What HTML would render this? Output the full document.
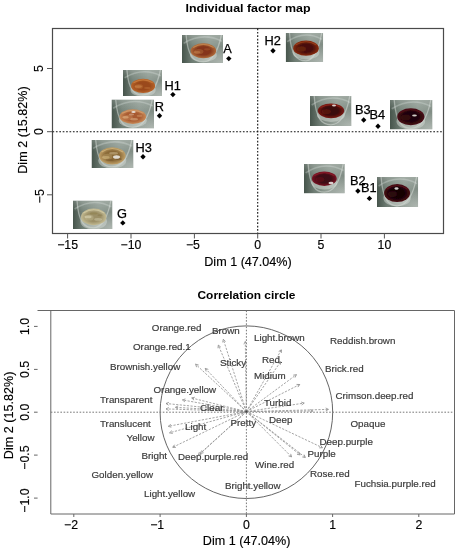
<!DOCTYPE html>
<html><head><meta charset="utf-8"><title>Factor maps</title>
<style>
html,body{margin:0;padding:0;background:#fff;}
svg{display:block}
text{font-family:"Liberation Sans",Arial,sans-serif}
.t{font-weight:bold;font-size:12.3px;fill:#000}
.ax{font-size:12.3px;fill:#000;stroke:#000;stroke-width:0.15px}
.lb{font-size:12.8px;fill:#000;stroke:#000;stroke-width:0.25px}
.cl{font-size:9.8px;fill:#3a3a3a;stroke:#3a3a3a;stroke-width:0.18px}
</style></head><body>
<svg width="458" height="550" viewBox="0 0 458 550">


<!-- ============ Individual factor map ============ -->
<text class="t" x="248" y="12.3" text-anchor="middle" style="font-size:11.8px" textLength="125" lengthAdjust="spacingAndGlyphs">Individual factor map</text>
<rect x="52.5" y="28.5" width="391" height="205" fill="none" stroke="#4a4a4a" stroke-width="1.2"/>
<line x1="52.5" y1="131.7" x2="443.5" y2="131.7" stroke="#111" stroke-width="1.1" stroke-dasharray="1.7 1.7"/>
<line x1="257.7" y1="28.5" x2="257.7" y2="233.5" stroke="#111" stroke-width="1.1" stroke-dasharray="1.7 1.7"/>
<g stroke="#555" stroke-width="1">
  <line x1="67.6" y1="233.5" x2="67.6" y2="238.5"/>
  <line x1="131" y1="233.5" x2="131" y2="238.5"/>
  <line x1="194.4" y1="233.5" x2="194.4" y2="238.5"/>
  <line x1="257.7" y1="233.5" x2="257.7" y2="238.5"/>
  <line x1="321" y1="233.5" x2="321" y2="238.5"/>
  <line x1="384.4" y1="233.5" x2="384.4" y2="238.5"/>
  <line x1="47" y1="68.5" x2="52.5" y2="68.5"/>
  <line x1="47" y1="131.7" x2="52.5" y2="131.7"/>
  <line x1="47" y1="194.8" x2="52.5" y2="194.8"/>
</g>
<g class="ax" text-anchor="middle">
  <text x="67.6" y="249">−15</text>
  <text x="131" y="249">−10</text>
  <text x="192.9" y="249">−5</text>
  <text x="257.7" y="249">0</text>
  <text x="321" y="249">5</text>
  <text x="384.4" y="249">10</text>
  <text transform="translate(43,68.5) rotate(-90)">5</text>
  <text transform="translate(43,131.7) rotate(-90)">0</text>
  <text transform="translate(43.5,196.2) rotate(-90)">−5</text>
  <text x="248" y="265.8" style="font-size:12.6px">Dim 1 (47.04%)</text>
  <text transform="translate(26.5,130) rotate(-90)" style="font-size:12.6px">Dim 2 (15.82%)</text>
</g>

<!-- photos -->
<defs><filter id="soft" x="-10%" y="-10%" width="120%" height="120%"><feGaussianBlur stdDeviation="0.45"/></filter><linearGradient id="gbg" x1="0" y1="0" x2="1" y2="0"><stop offset="0" stop-color="#46544b"/><stop offset="0.25" stop-color="#6f7d74"/><stop offset="0.65" stop-color="#8a968e"/><stop offset="1" stop-color="#808c84"/></linearGradient><linearGradient id="gtop" x1="0" y1="0" x2="0" y2="1"><stop offset="0" stop-color="#e4e9e5" stop-opacity="0.25"/><stop offset="1" stop-color="#dfe5e0" stop-opacity="0"/></linearGradient><radialGradient id="gbr" cx="1" cy="1" r="0.6"><stop offset="0" stop-color="#e8ece8" stop-opacity="0.45"/><stop offset="1" stop-color="#e8ece8" stop-opacity="0"/></radialGradient><radialGradient id="w0" cx="0.5" cy="0.5" r="0.5"><stop offset="0" stop-color="#85361a"/><stop offset="0.55" stop-color="#85361a"/><stop offset="1" stop-color="#b06c3c"/></radialGradient><clipPath id="cp0"><rect width="41" height="28"/></clipPath><radialGradient id="w1" cx="0.5" cy="0.5" r="0.5"><stop offset="0" stop-color="#9a4a1c"/><stop offset="0.55" stop-color="#9a4a1c"/><stop offset="1" stop-color="#b8642a"/></radialGradient><clipPath id="cp1"><rect width="39" height="26"/></clipPath><radialGradient id="w2" cx="0.5" cy="0.5" r="0.5"><stop offset="0" stop-color="#a85a30"/><stop offset="0.55" stop-color="#a85a30"/><stop offset="1" stop-color="#c88a58"/></radialGradient><clipPath id="cp2"><rect width="42.5" height="29"/></clipPath><radialGradient id="w3" cx="0.5" cy="0.5" r="0.5"><stop offset="0" stop-color="#8a6a38"/><stop offset="0.55" stop-color="#8a6a38"/><stop offset="1" stop-color="#c0a068"/></radialGradient><clipPath id="cp3"><rect width="42" height="28"/></clipPath><radialGradient id="w4" cx="0.5" cy="0.5" r="0.5"><stop offset="0" stop-color="#9c9068"/><stop offset="0.55" stop-color="#9c9068"/><stop offset="1" stop-color="#c4bc94"/></radialGradient><clipPath id="cp4"><rect width="39.5" height="28.5"/></clipPath><radialGradient id="w5" cx="0.5" cy="0.5" r="0.5"><stop offset="0" stop-color="#4a1008"/><stop offset="0.55" stop-color="#4a1008"/><stop offset="1" stop-color="#8a2c12"/></radialGradient><clipPath id="cp5"><rect width="37.5" height="29"/></clipPath><radialGradient id="w6" cx="0.5" cy="0.5" r="0.5"><stop offset="0" stop-color="#3a0a0a"/><stop offset="0.55" stop-color="#3a0a0a"/><stop offset="1" stop-color="#7a1a14"/></radialGradient><clipPath id="cp6"><rect width="41.5" height="30"/></clipPath><radialGradient id="w7" cx="0.5" cy="0.5" r="0.5"><stop offset="0" stop-color="#1e0408"/><stop offset="0.55" stop-color="#1e0408"/><stop offset="1" stop-color="#4a0c16"/></radialGradient><clipPath id="cp7"><rect width="42.5" height="29.5"/></clipPath><radialGradient id="w8" cx="0.5" cy="0.5" r="0.5"><stop offset="0" stop-color="#3c0812"/><stop offset="0.55" stop-color="#3c0812"/><stop offset="1" stop-color="#7a1424"/></radialGradient><clipPath id="cp8"><rect width="40.8" height="29.4"/></clipPath><radialGradient id="w9" cx="0.5" cy="0.5" r="0.5"><stop offset="0" stop-color="#120305"/><stop offset="0.55" stop-color="#120305"/><stop offset="1" stop-color="#4a0a14"/></radialGradient><clipPath id="cp9"><rect width="41.2" height="30"/></clipPath></defs>
<g transform="translate(182,35)" clip-path="url(#cp0)"><rect width="41" height="28" fill="url(#gbg)"/><g filter="url(#soft)"><rect width="41" height="11.2" fill="url(#gtop)"/><rect width="41" height="28" fill="url(#gbr)"/><path d="M4.1,0 C5.7,22.4 12.3,26.9 21.4,26.9 C29.5,26.9 36.1,16.8 39.4,0 Z" fill="#b9c2bc" opacity="0.1"/><path d="M4.1,0 C5.7,22.4 12.3,26.9 21.4,26.9 C29.5,26.9 36.1,16.8 39.4,0" fill="none" stroke="#e6ebe7" stroke-width="1.3" opacity="0.45"/><path d="M1.6,8.4 Q20.5,-3.4 39.8,6.2" fill="none" stroke="#e2e8e3" stroke-width="1.6" opacity="0.3"/><ellipse cx="21.4" cy="19.9" rx="13.4" ry="7.1" fill="#d3dad4" opacity="0.5"/><ellipse cx="21.4" cy="15.8" rx="12.8" ry="7.5" fill="url(#w0)"/><path d="M11.2,12.4 Q21.4,6.4 31.6,12.4" fill="none" stroke="#d8a060" stroke-width="1.2" opacity="0.55"/><ellipse cx="16.9" cy="16.6" rx="4.5" ry="2.6" fill="#d8a060" opacity="0.25"/><ellipse cx="15.0" cy="17.3" rx="3.4" ry="1.3" fill="#d8985a" opacity="0.38"/><ellipse cx="25.2" cy="14.3" rx="3.2" ry="1.1" fill="#c07040" opacity="0.30"/></g></g>
<g transform="translate(123,70)" clip-path="url(#cp1)"><rect width="39" height="26" fill="url(#gbg)"/><g filter="url(#soft)"><rect width="39" height="10.4" fill="url(#gtop)"/><rect width="39" height="26" fill="url(#gbr)"/><path d="M3.9,0 C5.5,20.8 11.7,25.0 20.1,25.0 C28.1,25.0 34.3,15.6 37.4,0 Z" fill="#b9c2bc" opacity="0.1"/><path d="M3.9,0 C5.5,20.8 11.7,25.0 20.1,25.0 C28.1,25.0 34.3,15.6 37.4,0" fill="none" stroke="#e6ebe7" stroke-width="1.3" opacity="0.45"/><path d="M1.6,7.8 Q19.5,-3.1 37.8,5.7" fill="none" stroke="#e2e8e3" stroke-width="1.6" opacity="0.3"/><ellipse cx="20.1" cy="19.9" rx="12.6" ry="6.8" fill="#d3dad4" opacity="0.5"/><ellipse cx="20.1" cy="15.9" rx="12.0" ry="7.2" fill="url(#w1)"/><path d="M10.5,12.7 Q20.1,6.9 29.7,12.7" fill="none" stroke="#d89048" stroke-width="1.2" opacity="0.55"/><ellipse cx="15.9" cy="16.6" rx="4.2" ry="2.5" fill="#d89048" opacity="0.25"/><ellipse cx="15.3" cy="16.6" rx="3.6" ry="1.3" fill="#e0a060" opacity="0.38"/><ellipse cx="24.3" cy="18.1" rx="3.2" ry="1.0" fill="#d89050" opacity="0.30"/></g></g>
<g transform="translate(111.5,99.5)" clip-path="url(#cp2)"><rect width="42.5" height="29" fill="url(#gbg)"/><g filter="url(#soft)"><rect width="42.5" height="11.6" fill="url(#gtop)"/><rect width="42.5" height="29" fill="url(#gbr)"/><path d="M4.2,0 C6.0,23.2 12.8,27.8 21.3,27.8 C30.6,27.8 37.4,17.4 40.8,0 Z" fill="#b9c2bc" opacity="0.1"/><path d="M4.2,0 C6.0,23.2 12.8,27.8 21.3,27.8 C30.6,27.8 37.4,17.4 40.8,0" fill="none" stroke="#e6ebe7" stroke-width="1.3" opacity="0.45"/><path d="M1.7,8.7 Q21.2,-3.5 41.2,6.4" fill="none" stroke="#e2e8e3" stroke-width="1.6" opacity="0.3"/><ellipse cx="21.3" cy="21.1" rx="14.0" ry="6.9" fill="#d3dad4" opacity="0.5"/><ellipse cx="21.3" cy="17.1" rx="13.3" ry="7.3" fill="url(#w2)"/><path d="M10.7,13.8 Q21.3,8.0 31.9,13.8" fill="none" stroke="#e0b080" stroke-width="1.2" opacity="0.55"/><ellipse cx="16.6" cy="17.8" rx="4.7" ry="2.6" fill="#e0b080" opacity="0.25"/><ellipse cx="14.0" cy="17.8" rx="3.2" ry="1.3" fill="#e8c090" opacity="0.52"/><ellipse cx="22.6" cy="19.7" rx="3.9" ry="1.2" fill="#e8c8a0" opacity="0.45"/><ellipse cx="28.0" cy="16.4" rx="2.9" ry="1.1" fill="#d8a070" opacity="0.45"/><ellipse cx="20.0" cy="14.9" rx="2.6" ry="1.0" fill="#f0e0c8" opacity="0.38"/><ellipse cx="22" cy="12.5" rx="2.2" ry="1.1" fill="#f0f0ec" opacity="0.85"/></g></g>
<g transform="translate(91.5,140)" clip-path="url(#cp3)"><rect width="42" height="28" fill="url(#gbg)"/><g filter="url(#soft)"><rect width="42" height="11.2" fill="url(#gtop)"/><rect width="42" height="28" fill="url(#gbr)"/><path d="M4.2,0 C5.9,22.4 12.6,26.9 20.8,26.9 C30.2,26.9 37.0,16.8 40.3,0 Z" fill="#b9c2bc" opacity="0.1"/><path d="M4.2,0 C5.9,22.4 12.6,26.9 20.8,26.9 C30.2,26.9 37.0,16.8 40.3,0" fill="none" stroke="#e6ebe7" stroke-width="1.3" opacity="0.45"/><path d="M1.7,8.4 Q21.0,-3.4 40.7,6.2" fill="none" stroke="#e2e8e3" stroke-width="1.6" opacity="0.3"/><ellipse cx="20.8" cy="20.5" rx="14.0" ry="8.2" fill="#d3dad4" opacity="0.5"/><ellipse cx="20.8" cy="15.8" rx="13.3" ry="8.6" fill="url(#w3)"/><path d="M10.2,11.9 Q20.8,5.1 31.4,11.9" fill="none" stroke="#e0c890" stroke-width="1.2" opacity="0.55"/><ellipse cx="16.1" cy="16.7" rx="4.7" ry="3.0" fill="#e0c890" opacity="0.25"/><ellipse cx="14.2" cy="17.5" rx="3.9" ry="1.4" fill="#e0c890" opacity="0.45"/><ellipse cx="22.1" cy="13.2" rx="4.5" ry="1.3" fill="#e8d8b0" opacity="0.38"/><ellipse cx="27.5" cy="19.2" rx="2.9" ry="1.1" fill="#5a3a18" opacity="0.38"/><ellipse cx="18.1" cy="20.1" rx="3.9" ry="1.0" fill="#6a4a20" opacity="0.30"/><ellipse cx="25" cy="17" rx="3.5" ry="1.8" fill="#f0f0ec" opacity="0.85"/></g></g>
<g transform="translate(73,200.5)" clip-path="url(#cp4)"><rect width="39.5" height="28.5" fill="url(#gbg)"/><g filter="url(#soft)"><rect width="39.5" height="11.4" fill="url(#gtop)"/><rect width="39.5" height="28.5" fill="url(#gbr)"/><path d="M4.0,0 C5.5,22.8 11.8,27.4 20.7,27.4 C28.4,27.4 34.8,17.1 37.9,0 Z" fill="#b9c2bc" opacity="0.1"/><path d="M4.0,0 C5.5,22.8 11.8,27.4 20.7,27.4 C28.4,27.4 34.8,17.1 37.9,0" fill="none" stroke="#e6ebe7" stroke-width="1.3" opacity="0.45"/><path d="M1.6,8.5 Q19.8,-3.4 38.3,6.3" fill="none" stroke="#e2e8e3" stroke-width="1.6" opacity="0.3"/><ellipse cx="20.7" cy="21.0" rx="13.3" ry="8.0" fill="#d3dad4" opacity="0.5"/><ellipse cx="20.7" cy="16.4" rx="12.7" ry="8.4" fill="url(#w4)"/><path d="M10.5,12.6 Q20.7,5.9 30.9,12.6" fill="none" stroke="#dcd6b0" stroke-width="1.2" opacity="0.55"/><ellipse cx="16.3" cy="17.2" rx="4.4" ry="2.9" fill="#dcd6b0" opacity="0.25"/><ellipse cx="15.0" cy="16.4" rx="3.6" ry="1.4" fill="#e8e4c8" opacity="0.45"/><ellipse cx="25.1" cy="18.9" rx="3.9" ry="1.3" fill="#e0dcc0" opacity="0.38"/><ellipse cx="20.7" cy="13.0" rx="3.9" ry="1.0" fill="#8a7a40" opacity="0.38"/><ellipse cx="27.0" cy="14.7" rx="2.6" ry="1.0" fill="#7a6a38" opacity="0.30"/></g></g>
<g transform="translate(285.7,33)" clip-path="url(#cp5)"><rect width="37.5" height="29" fill="url(#gbg)"/><g filter="url(#soft)"><rect width="37.5" height="11.6" fill="url(#gtop)"/><rect width="37.5" height="29" fill="url(#gbr)"/><path d="M3.8,0 C5.3,23.2 11.2,27.8 20.3,27.8 C27.0,27.8 33.0,17.4 36.0,0 Z" fill="#b9c2bc" opacity="0.1"/><path d="M3.8,0 C5.3,23.2 11.2,27.8 20.3,27.8 C27.0,27.8 33.0,17.4 36.0,0" fill="none" stroke="#e6ebe7" stroke-width="1.3" opacity="0.45"/><path d="M1.5,8.7 Q18.8,-3.5 36.4,6.4" fill="none" stroke="#e2e8e3" stroke-width="1.6" opacity="0.3"/><ellipse cx="20.3" cy="19.4" rx="13.4" ry="7.2" fill="#d3dad4" opacity="0.5"/><ellipse cx="20.3" cy="15.2" rx="12.8" ry="7.6" fill="url(#w5)"/><path d="M10.1,11.8 Q20.3,5.7 30.5,11.8" fill="none" stroke="#b0501e" stroke-width="1.2" opacity="0.55"/><ellipse cx="15.8" cy="16.0" rx="4.5" ry="2.7" fill="#b0501e" opacity="0.25"/></g></g>
<g transform="translate(310,96)" clip-path="url(#cp6)"><rect width="41.5" height="30" fill="url(#gbg)"/><g filter="url(#soft)"><rect width="41.5" height="12.0" fill="url(#gtop)"/><rect width="41.5" height="30" fill="url(#gbr)"/><path d="M4.2,0 C5.8,24.0 12.4,28.8 21.0,28.8 C29.9,28.8 36.5,18.0 39.8,0 Z" fill="#b9c2bc" opacity="0.1"/><path d="M4.2,0 C5.8,24.0 12.4,28.8 21.0,28.8 C29.9,28.8 36.5,18.0 39.8,0" fill="none" stroke="#e6ebe7" stroke-width="1.3" opacity="0.45"/><path d="M1.7,9.0 Q20.8,-3.6 40.3,6.6" fill="none" stroke="#e2e8e3" stroke-width="1.6" opacity="0.3"/><ellipse cx="21.0" cy="18.9" rx="13.9" ry="7.0" fill="#d3dad4" opacity="0.5"/><ellipse cx="21.0" cy="14.8" rx="13.2" ry="7.4" fill="url(#w6)"/><path d="M10.4,11.5 Q21.0,5.6 31.6,11.5" fill="none" stroke="#a83022" stroke-width="1.2" opacity="0.55"/><ellipse cx="16.4" cy="15.5" rx="4.6" ry="2.6" fill="#a83022" opacity="0.25"/><ellipse cx="24" cy="9.5" rx="2" ry="1" fill="#f0f0ec" opacity="0.85"/></g></g>
<g transform="translate(390,100)" clip-path="url(#cp7)"><rect width="42.5" height="29.5" fill="url(#gbg)"/><g filter="url(#soft)"><rect width="42.5" height="11.8" fill="url(#gtop)"/><rect width="42.5" height="29.5" fill="url(#gbr)"/><path d="M4.2,0 C6.0,23.6 12.8,28.3 20.8,28.3 C30.6,28.3 37.4,17.7 40.8,0 Z" fill="#b9c2bc" opacity="0.1"/><path d="M4.2,0 C6.0,23.6 12.8,28.3 20.8,28.3 C30.6,28.3 37.4,17.7 40.8,0" fill="none" stroke="#e6ebe7" stroke-width="1.3" opacity="0.45"/><path d="M1.7,8.8 Q21.2,-3.5 41.2,6.5" fill="none" stroke="#e2e8e3" stroke-width="1.6" opacity="0.3"/><ellipse cx="20.8" cy="21.4" rx="14.3" ry="8.1" fill="#d3dad4" opacity="0.5"/><ellipse cx="20.8" cy="16.7" rx="13.6" ry="8.5" fill="url(#w7)"/><path d="M9.9,12.9 Q20.8,6.1 31.7,12.9" fill="none" stroke="#6a1420" stroke-width="1.2" opacity="0.55"/><ellipse cx="16.0" cy="17.6" rx="4.8" ry="3.0" fill="#6a1420" opacity="0.25"/><ellipse cx="24.5" cy="15.5" rx="2.4" ry="1.1" fill="#f0f0ec" opacity="0.85"/></g></g>
<g transform="translate(304,164)" clip-path="url(#cp8)"><rect width="40.8" height="29.4" fill="url(#gbg)"/><g filter="url(#soft)"><rect width="40.8" height="11.8" fill="url(#gtop)"/><rect width="40.8" height="29.4" fill="url(#gbr)"/><path d="M4.1,0 C5.7,23.5 12.2,28.2 20.3,28.2 C29.4,28.2 35.9,17.6 39.2,0 Z" fill="#b9c2bc" opacity="0.1"/><path d="M4.1,0 C5.7,23.5 12.2,28.2 20.3,28.2 C29.4,28.2 35.9,17.6 39.2,0" fill="none" stroke="#e6ebe7" stroke-width="1.3" opacity="0.45"/><path d="M1.6,8.8 Q20.4,-3.5 39.6,6.5" fill="none" stroke="#e2e8e3" stroke-width="1.6" opacity="0.3"/><ellipse cx="20.3" cy="18.7" rx="13.0" ry="6.8" fill="#d3dad4" opacity="0.5"/><ellipse cx="20.3" cy="14.7" rx="12.4" ry="7.2" fill="url(#w8)"/><path d="M10.4,11.5 Q20.3,5.7 30.2,11.5" fill="none" stroke="#a02030" stroke-width="1.2" opacity="0.55"/><ellipse cx="16.0" cy="15.4" rx="4.3" ry="2.5" fill="#a02030" opacity="0.25"/><ellipse cx="27" cy="19" rx="2.5" ry="1.2" fill="#f0f0ec" opacity="0.85"/></g></g>
<g transform="translate(377,177)" clip-path="url(#cp9)"><rect width="41.2" height="30" fill="url(#gbg)"/><g filter="url(#soft)"><rect width="41.2" height="12.0" fill="url(#gtop)"/><rect width="41.2" height="30" fill="url(#gbr)"/><path d="M4.1,0 C5.8,24.0 12.4,28.8 20.1,28.8 C29.7,28.8 36.3,18.0 39.6,0 Z" fill="#b9c2bc" opacity="0.1"/><path d="M4.1,0 C5.8,24.0 12.4,28.8 20.1,28.8 C29.7,28.8 36.3,18.0 39.6,0" fill="none" stroke="#e6ebe7" stroke-width="1.3" opacity="0.45"/><path d="M1.6,9.0 Q20.6,-3.6 40.0,6.6" fill="none" stroke="#e2e8e3" stroke-width="1.6" opacity="0.3"/><ellipse cx="20.1" cy="21.1" rx="13.7" ry="8.5" fill="#d3dad4" opacity="0.5"/><ellipse cx="20.1" cy="16.1" rx="13.0" ry="9.0" fill="url(#w9)"/><path d="M9.7,12.1 Q20.1,4.9 30.5,12.1" fill="none" stroke="#7a1424" stroke-width="1.2" opacity="0.55"/><ellipse cx="15.6" cy="17.0" rx="4.5" ry="3.1" fill="#7a1424" opacity="0.25"/><ellipse cx="19.5" cy="11.5" rx="2" ry="1.3" fill="#f0f0ec" opacity="0.85"/></g></g>

<!-- points -->
<g fill="#000">
  <path d="M228.8,55.9L231.5,58.6L228.8,61.3L226.1,58.6Z"/>
  <path d="M172.9,91.9L175.6,94.6L172.9,97.3L170.2,94.6Z"/>
  <path d="M159.5,113.1L162.2,115.8L159.5,118.5L156.8,115.8Z"/>
  <path d="M143,154L145.7,156.7L143,159.4L140.3,156.7Z"/>
  <path d="M122.8,220.2L125.5,222.9L122.8,225.6L120.1,222.9Z"/>
  <path d="M273,48L275.7,50.7L273,53.4L270.3,50.7Z"/>
  <path d="M363.7,117.3L366.4,120L363.7,122.7L361,120Z"/>
  <path d="M378,123.6L380.7,126.3L378,129L375.3,126.3Z"/>
  <path d="M357.9,188.3L360.6,191L357.9,193.7L355.2,191Z"/>
  <path d="M369.4,195.7L372.1,198.4L369.4,201.1L366.7,198.4Z"/>
</g>
<g class="lb">
  <text x="223.3" y="53">A</text>
  <text x="164.5" y="89.7">H1</text>
  <text x="154.8" y="110.6">R</text>
  <text x="135.4" y="151.8">H3</text>
  <text x="117" y="217.5">G</text>
  <text x="264.5" y="45.2">H2</text>
  <text x="355" y="113.9">B3</text>
  <text x="369.5" y="119">B4</text>
  <text x="350" y="185.1">B2</text>
  <text x="361" y="192.3">B1</text>
</g>

<!-- ============ Correlation circle ============ -->
<text class="t" x="246.5" y="298.9" text-anchor="middle" style="font-size:11.6px" textLength="98" lengthAdjust="spacingAndGlyphs">Correlation circle</text>
<g fill="none" stroke="#666" stroke-width="1">
  <line x1="37.5" y1="310.5" x2="454.5" y2="310.5"/>
  <line x1="50.8" y1="310.5" x2="50.8" y2="514"/>
  <line x1="50.8" y1="514" x2="454.5" y2="514"/>
  <line x1="454.5" y1="310.5" x2="454.5" y2="514"/>
</g>
<g stroke="#666" stroke-width="1">
  <line x1="34" y1="326.4" x2="37.6" y2="326.4"/>
  <line x1="34" y1="369.4" x2="37.6" y2="369.4"/>
  <line x1="34" y1="412.2" x2="37.6" y2="412.2"/>
  <line x1="34" y1="455.1" x2="37.6" y2="455.1"/>
  <line x1="34" y1="498.1" x2="37.6" y2="498.1"/>
  <line x1="73.8" y1="514" x2="73.8" y2="517"/>
  <line x1="160.1" y1="514" x2="160.1" y2="517"/>
  <line x1="246.4" y1="514" x2="246.4" y2="517"/>
  <line x1="332.6" y1="514" x2="332.6" y2="517"/>
  <line x1="418.8" y1="514" x2="418.8" y2="517"/>
</g>
<g class="ax" text-anchor="middle">
  <text x="71" y="529">−2</text>
  <text x="157.2" y="529">−1</text>
  <text x="246.4" y="529">0</text>
  <text x="332.6" y="529">1</text>
  <text x="418.8" y="529">2</text>
  <text transform="translate(28.9,326.4) rotate(-90)">1.0</text>
  <text transform="translate(28.9,369.4) rotate(-90)">0.5</text>
  <text transform="translate(28.9,412.2) rotate(-90)">0.0</text>
  <text transform="translate(28.9,457.6) rotate(-90)">−0.5</text>
  <text transform="translate(28.9,500.6) rotate(-90)">−1.0</text>
  <text x="246.6" y="545" style="font-size:12.6px">Dim 1 (47.04%)</text>
  <text transform="translate(13,415.4) rotate(-90)" style="font-size:12.6px">Dim 2 (15.82%)</text>
</g>
<line x1="50.8" y1="412.2" x2="454.5" y2="412.2" stroke="#777" stroke-width="1" stroke-dasharray="1.6 1.6"/>
<line x1="246.4" y1="310.5" x2="246.4" y2="514" stroke="#777" stroke-width="1" stroke-dasharray="1.6 1.6"/>
<circle cx="246.4" cy="412.2" r="86.3" fill="none" stroke="#666" stroke-width="1"/>

<!-- arrows -->
<defs><marker id="ah" viewBox="-4 -3 5 6" refX="0" refY="0" markerWidth="5" markerHeight="6" markerUnits="userSpaceOnUse" orient="auto"><path d="M-2.8,-1.5 L0,0 L-2.8,1.5" fill="none" stroke="#8c8c8c" stroke-width="0.75"/></marker></defs>
<g stroke="#939393" stroke-width="0.85" stroke-dasharray="2.2 1.4" fill="none" marker-end="url(#ah)">
  <line x1="246.4" y1="411.6" x2="223.3" y2="339.3"/>
  <line x1="246.4" y1="411.6" x2="218.3" y2="345.1"/>
  <line x1="246.4" y1="411.6" x2="245.3" y2="341.5"/>
  <line x1="246.4" y1="411.6" x2="195.6" y2="364.2"/>
  <line x1="246.4" y1="411.6" x2="205.3" y2="368.4"/>
  <line x1="246.4" y1="411.6" x2="191.7" y2="398"/>
  <line x1="246.4" y1="411.6" x2="182.4" y2="399.9"/>
  <line x1="246.4" y1="411.6" x2="166" y2="403.5"/>
  <line x1="246.4" y1="411.6" x2="166" y2="408.9"/>
  <line x1="246.4" y1="411.6" x2="175.3" y2="407.3"/>
  <line x1="246.4" y1="411.6" x2="168.3" y2="426.3"/>
  <line x1="246.4" y1="411.6" x2="169.6" y2="432.8"/>
  <line x1="246.4" y1="411.6" x2="172.7" y2="447.3"/>
  <line x1="246.4" y1="411.6" x2="198.3" y2="455.1"/>
  <line x1="246.4" y1="411.6" x2="200.5" y2="453.5"/>
  <line x1="246.4" y1="411.6" x2="281.4" y2="349.8"/>
  <line x1="246.4" y1="411.6" x2="280.7" y2="361.6"/>
  <line x1="246.4" y1="411.6" x2="296.4" y2="374.7"/>
  <line x1="246.4" y1="411.6" x2="299.7" y2="384.5"/>
  <line x1="246.4" y1="411.6" x2="304.2" y2="403.1"/>
  <line x1="246.4" y1="411.6" x2="312.8" y2="411"/>
  <line x1="246.4" y1="411.6" x2="328.5" y2="409.4"/>
  <line x1="246.4" y1="411.6" x2="322.4" y2="447.7"/>
  <line x1="246.4" y1="411.6" x2="305.4" y2="457.5"/>
  <line x1="246.4" y1="411.6" x2="291.6" y2="456.9"/>
  <line x1="246.4" y1="411.6" x2="300.1" y2="454.9"/>
</g>
<circle cx="246.4" cy="411.6" r="1.1" fill="#444"/>

<g class="cl">
  <text x="151.8" y="331.3">Orange.red</text>
  <text x="133" y="349.6">Orange.red.1</text>
  <text x="110" y="369.8">Brownish.yellow</text>
  <text x="211.9" y="333.8">Brown</text>
  <text x="220" y="365.7">Sticky</text>
  <text x="153.5" y="392.5">Orange.yellow</text>
  <text x="100" y="402.5">Transparent</text>
  <text x="200" y="411">Clear</text>
  <text x="100" y="426.6">Translucent</text>
  <text x="185" y="429.6">Light</text>
  <text x="126.5" y="441">Yellow</text>
  <text x="141.5" y="459">Bright</text>
  <text x="178" y="460">Deep.purple.red</text>
  <text x="91.5" y="478">Golden.yellow</text>
  <text x="144" y="496.6">Light.yellow</text>
  <text x="225" y="489.1">Bright.yellow</text>
  <text x="230.5" y="425.5">Pretty</text>
  <text x="254" y="340.5">Light.brown</text>
  <text x="330" y="343.5">Reddish.brown</text>
  <text x="262" y="362.5">Red.</text>
  <text x="325" y="371.7">Brick.red</text>
  <text x="254" y="379">Midium</text>
  <text x="335.5" y="399">Crimson.deep.red</text>
  <text x="264" y="405.5">Turbid</text>
  <text x="350.5" y="426.5">Opaque</text>
  <text x="269" y="423">Deep</text>
  <text x="319.5" y="444.5">Deep.purple</text>
  <text x="307.5" y="456.8">Purple</text>
  <text x="255" y="467.5">Wine.red</text>
  <text x="310" y="476.5">Rose.red</text>
  <text x="354.5" y="487">Fuchsia.purple.red</text>
</g>
</svg>
</body></html>
